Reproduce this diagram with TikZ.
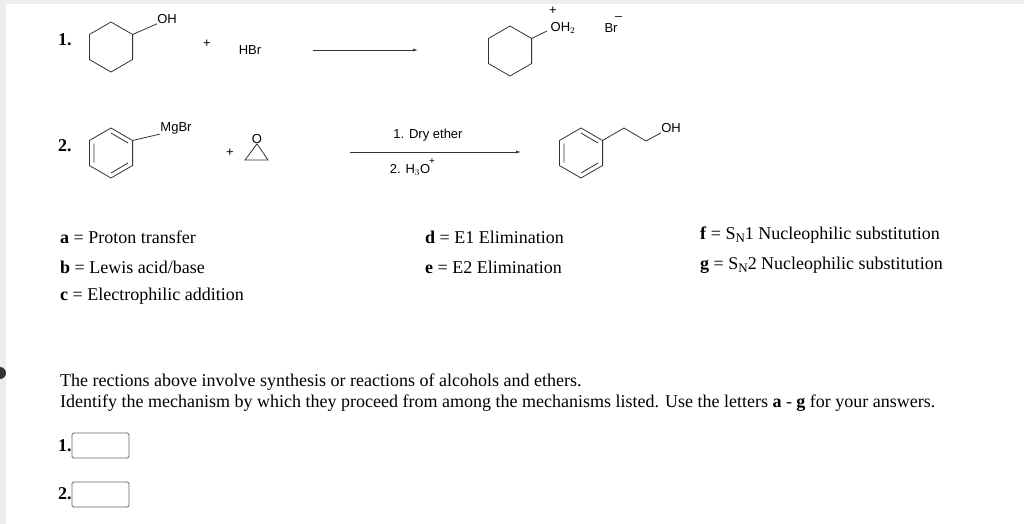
\documentclass[tikz,border=0pt]{standalone}
\usepackage{fontspec}
\usetikzlibrary{arrows.meta}
\setmainfont{Liberation Serif}
\newfontfamily\chemf{Liberation Sans}
\begin{document}
\begin{tikzpicture}[x=1pt,y=-1pt,
  bond/.style={line width=0.8pt, black!80},
  chem/.style={font=\chemf\fontsize{13}{14}\selectfont, inner sep=0pt},
  txt/.style={font=\fontsize{18}{20}\selectfont, anchor=west, inner sep=0pt},
  bnum/.style={font=\bfseries\fontsize{18}{20}\selectfont, anchor=west, inner sep=0pt},
  ans/.style={draw=black!60, rounded corners=1.5pt, line width=0.8pt},
  arr/.style={line width=0.8pt, -{Latex[length=5pt,width=3pt]}, black!80}]
\useasboundingbox (0,0) rectangle (1024,524);
\fill[black!7] (0,0) rectangle (1024,4);
\fill[black!7] (0,0) rectangle (6,524);
\fill[black!80] (0,373) circle (6);
% reaction 1
\node[bnum] (n1) at (58,40) {1.};
\draw[bond] (111,22) -- (132.6,34.5) -- (132.6,59.5) -- (111,72) -- (89.4,59.5) -- (89.4,34.5) -- cycle;
\node[chem] (oh1) at (167,19) {OH};
\draw[bond] (132.6,34.5) -- (oh1.south west);
\node[chem] (p1) at (207,44) {+};
\node[chem] (hbr) at (250,50) {HBr};
\coordinate (a1s) at (313,50); \coordinate (a1e) at (418,50);
\draw[arr] (a1s) -- (a1e);
\draw[bond] (510,26) -- (531.6,38.5) -- (531.6,63.5) -- (510,76) -- (488.4,63.5) -- (488.4,38.5) -- cycle;
\node[chem] (oh2) at (563,28) {OH$_2$};
\node[chem] (plus) at (553,11) {+};
\draw[bond] (531.6,38.5) -- (547,31);
\node[chem] (br) at (611,28) {Br};
\draw[bond] (615,16) -- (622,16);
% reaction 2
\node[bnum] (n2) at (58,146) {2.};
\draw[bond] (111,128) -- (132.6,140.5) -- (132.6,165.5) -- (111,178) -- (89.4,165.5) -- (89.4,140.5) -- cycle;
\draw[bond] (94,143.5) -- (94,162.5) (111,173) -- (128,163) (111,133) -- (128,143);
\node[chem] (mgbr) at (176,128) {MgBr};
\draw[bond] (132.6,140.5) -- (mgbr.south west);
\node[chem] (p2) at (230,153) {+};
\node[chem] (o) at (257,139) {O};
\draw[bond] (o.south) -- (245,160) -- (268,160) -- (o.south);
\coordinate (a2s) at (350,152); \coordinate (a2e) at (521,152);
\draw[arr] (a2s) -- (a2e);
\node[chem] (c1) at (428,135) {1. Dry ether};
\node[chem] (c2) at (410,170) {2. H$_3$O};
\node[chem, font=\chemf\fontsize{10}{10}\selectfont] (c2p) at (432,162) {+};
\draw[bond] (581,128) -- (602.6,140.5) -- (602.6,165.5) -- (581,178) -- (559.4,165.5) -- (559.4,140.5) -- cycle;
\draw[bond] (564,143.5) -- (564,162.5) (581,173) -- (598,163) (581,133) -- (598,143);
\coordinate (k1) at (624,128); \coordinate (k2) at (646,141);
\node[chem] (oh3) at (671,128) {OH};
\draw[bond] (602.6,140.5) -- (k1) -- (k2) -- (oh3.south west);
% mechanisms
\node[txt] (ma) at (60,237) {\textbf{a} = Proton transfer};
\node[txt] (mb) at (60,267) {\textbf{b} = Lewis acid/base};
\node[txt] (mc) at (60,296) {\textbf{c} = Electrophilic addition};
\node[txt] (md) at (425,237) {\textbf{d} = E1 Elimination};
\node[txt] (me) at (425,267) {\textbf{e} = E2 Elimination};
\node[txt] (mf) at (700,235) {\textbf{f} = S\raisebox{-0.35ex}{\fontsize{13}{13}\selectfont N}1 Nucleophilic substitution};
\node[txt] (mg) at (700,265) {\textbf{g} = S\raisebox{-0.35ex}{\fontsize{13}{13}\selectfont N}2 Nucleophilic substitution};
\node[txt] (q1) at (60,382) {The rections above involve synthesis or reactions of alcohols and ethers.};
\node[txt] (q2) at (60,403) {Identify the mechanism by which they proceed from among the mechanisms listed. Use the letters \textbf{a} - \textbf{g} for your answers.};
\node[bnum] (l1) at (58,446) {1.};
\draw[ans] (72,433) rectangle (129,458);
\node[bnum] (l2) at (58,494) {2.};
\draw[ans] (72,482) rectangle (129,507);
\end{tikzpicture}
\end{document}
